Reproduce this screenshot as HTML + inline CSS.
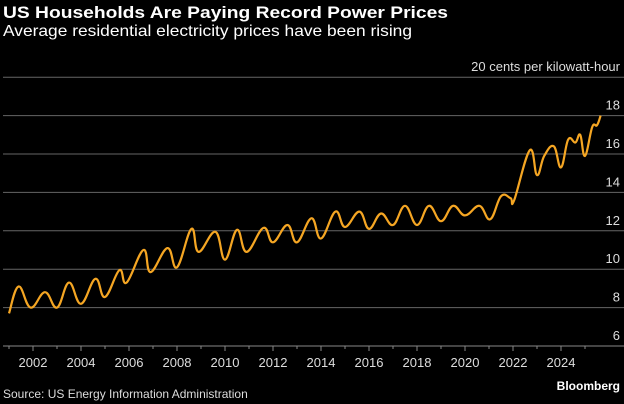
<!DOCTYPE html>
<html><head><meta charset="utf-8"><style>
html,body{margin:0;padding:0;background:#000;}
svg{display:block;font-family:"Liberation Sans",sans-serif;}
</style></head><body>
<svg id="chart" width="624" height="404" viewBox="0 0 624 404">
<text x="3" y="18" font-size="17" font-weight="bold" fill="#fff" textLength="445" lengthAdjust="spacingAndGlyphs">US Households Are Paying Record Power Prices</text>
<text x="3" y="36" font-size="16" fill="#fff" textLength="409" lengthAdjust="spacingAndGlyphs">Average residential electricity prices have been rising</text>
<g id="grid"></g>
<g id="xaxis"></g>
<path id="line" fill="none" stroke="#f5a623" stroke-width="2.2" stroke-linejoin="round"></path>
<text x="3" y="398" font-size="12" fill="#ddd">Source: US Energy Information Administration</text>
<text x="620" y="390" font-size="12" font-weight="bold" fill="#fff" text-anchor="end">Bloomberg</text>
</svg>
<script>
const dates=[2001.0,2001.4,2001.9,2002.5,2003.0,2003.5,2004.0,2004.6,2005.0,2005.6,2005.9,2006.6,2006.9,2007.6,2008.0,2008.6,2008.9,2009.6,2010.0,2010.5,2010.9,2011.6,2012.0,2012.6,2013.0,2013.6,2014.0,2014.6,2015.0,2015.6,2016.0,2016.5,2017.0,2017.5,2018.0,2018.5,2019.0,2019.5,2020.0,2020.6,2021.05,2021.5,2021.9,2022.05,2022.7,2023.0,2023.3,2023.7,2024.0,2024.3,2024.6,2024.8,2025.0,2025.3,2025.5,2025.65];
const prices=[7.7,9.1,8.0,8.8,8.0,9.3,8.2,9.5,8.55,9.95,9.3,11.0,9.85,11.1,10.1,12.1,10.9,11.95,10.5,12.05,10.9,12.15,11.4,12.3,11.4,12.65,11.6,13.0,12.2,13.0,12.1,12.9,12.3,13.3,12.3,13.3,12.5,13.3,12.8,13.3,12.6,13.8,13.7,13.6,16.2,14.9,15.9,16.4,15.3,16.75,16.6,17.0,15.9,17.4,17.5,18.0];
const yTicks=[6,8,10,12,14,16,18,20];
const xTicks=[2002,2004,2006,2008,2010,2012,2014,2016,2018,2020,2022,2024];
const xs=y=>33+(y-2002)*24;
const ys=v=>346-(v-6)*19.2;
const NS="http://www.w3.org/2000/svg";
const grid=document.getElementById('grid'),xa=document.getElementById('xaxis');
yTicks.forEach(t=>{
  const l=document.createElementNS(NS,'line');
  l.setAttribute('x1',3);l.setAttribute('x2',624);
  l.setAttribute('y1',ys(t));l.setAttribute('y2',ys(t));
  l.setAttribute('stroke',t===6?'#888':'#666');l.setAttribute('stroke-width',1);
  
  
  grid.appendChild(l);
  const tx=document.createElementNS(NS,'text');
  tx.setAttribute('x',620);tx.setAttribute('y',ys(t)-6);tx.setAttribute('text-anchor','end');
  tx.setAttribute('font-size',13);tx.setAttribute('fill','#ddd');
  tx.textContent=t===20?'20 cents per kilowatt-hour':t;
  
  
  grid.appendChild(tx);
});
for(let y=2001;y<=2025;y++){
  const l=document.createElementNS(NS,'line');
  const major=xTicks.includes(y);
  l.setAttribute('x1',xs(y));l.setAttribute('x2',xs(y));
  l.setAttribute('y1',346);l.setAttribute('y2',major?351:349);
  l.setAttribute('stroke','#888');
  
  
  xa.appendChild(l);
}
xTicks.forEach(t=>{
  const tx=document.createElementNS(NS,'text');
  tx.setAttribute('x',xs(t));tx.setAttribute('y',367);tx.setAttribute('text-anchor','middle');
  tx.setAttribute('font-size',13);tx.setAttribute('fill','#ddd');
  tx.textContent=t;
  
  
  xa.appendChild(tx);
});
const pts=dates.map((d,i)=>[xs(d),ys(prices[i])]);
let d='M'+pts[0][0].toFixed(1)+','+pts[0][1].toFixed(1);
const k=0.2;
for(let i=0;i<pts.length-1;i++){
  const p0=pts[Math.max(0,i-1)],p1=pts[i],p2=pts[i+1],p3=pts[Math.min(pts.length-1,i+2)];
  const c1=[p1[0]+(p2[0]-p0[0])*k,p1[1]+(p2[1]-p0[1])*k];
  const c2=[p2[0]-(p3[0]-p1[0])*k,p2[1]-(p3[1]-p1[1])*k];
  d+='C'+c1.map(v=>v.toFixed(1)).join(',')+' '+c2.map(v=>v.toFixed(1)).join(',')+' '+p2[0].toFixed(1)+','+p2[1].toFixed(1);
}
document.getElementById('line').setAttribute('d',d);
</script>
</body></html>
